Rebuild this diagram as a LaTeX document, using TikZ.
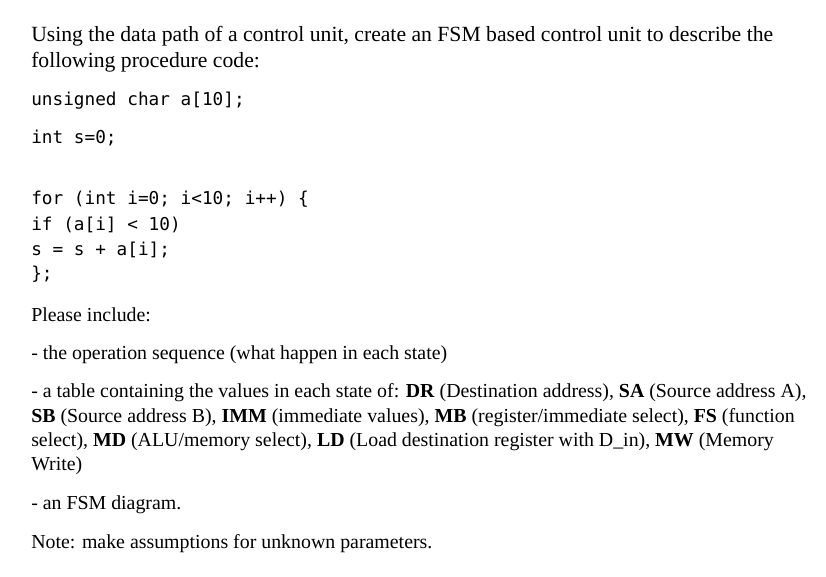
\documentclass[tikz,border=0pt]{standalone}
\usepackage{fontspec}
\setmainfont{Liberation Serif}
\setmonofont{DejaVu Sans Mono}
\begin{document}
\begin{tikzpicture}[x=0.75pt,y=-0.75pt,
 big/.style={anchor=base west,inner sep=0,font=\fontsize{16.25pt}{18pt}\selectfont},
 code/.style={anchor=base west,inner sep=0,font=\ttfamily\fontsize{13.3pt}{16pt}\selectfont},
 txt/.style={anchor=base west,inner sep=0,font=\fontsize{14.9pt}{16pt}\selectfont}]
\useasboundingbox[fill=white] (0,0) rectangle (826,577);
\node[big] (l1) at (31,42) {Using the data path of a control unit, create an FSM based control unit to describe the};
\node[big] (l2) at (31,68) {following procedure code:};
\node[code] (c1) at (31,106) {unsigned char a[10];};
\node[code] (c2) at (31,144) {int s=0;};
\node[code] (c3) at (31,205) {for (int i=0; i<10; i++) \{};
\node[code] (c4) at (31,231) {if (a[i] < 10)};
\node[code] (c5) at (31,256) {s = s + a[i];};
\node[code] (c6) at (31,280) {\};};
\node[txt] (t1) at (31,322) {Please include:};
\node[txt] (t2) at (31,360) {- the operation sequence (what happen in each state)};
\node[txt] (t3) at (31,398) {- a table containing the values in each state of: \textbf{DR} (Destination address), \textbf{SA} (Source address A),};
\node[txt] (t4) at (31,423) {\textbf{SB} (Source address B), \textbf{IMM} (immediate values), \textbf{MB} (register/immediate select), \textbf{FS} (function};
\node[txt] (t5) at (31,447) {select), \textbf{MD} (ALU/memory select), \textbf{LD} (Load destination register with D\_in), \textbf{MW} (Memory};
\node[txt] (t6) at (31,471) {Write)};
\node[txt] (t7) at (31,510) {- an FSM diagram.};
\node[txt] (t8) at (31,549) {Note: make assumptions for unknown parameters.};
\end{tikzpicture}
\end{document}
